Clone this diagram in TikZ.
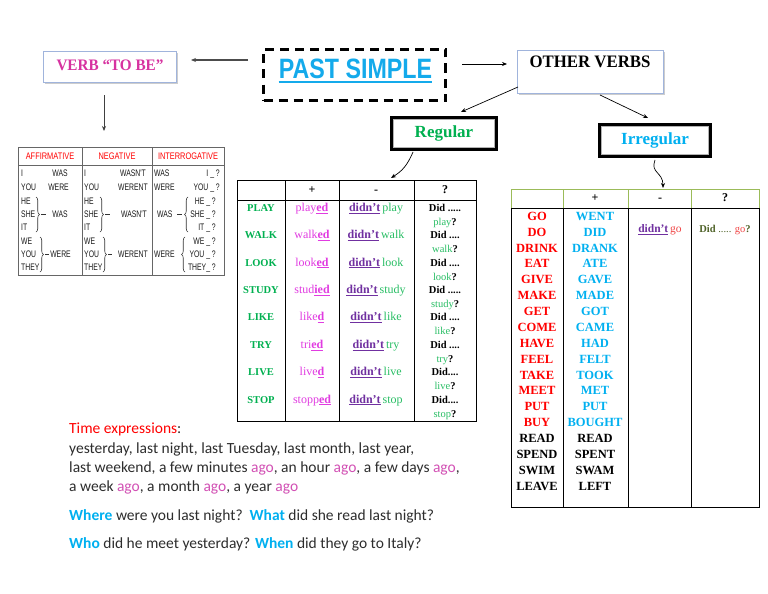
\documentclass[tikz,border=0pt]{standalone}
\usepackage{fontspec}
\setmainfont{Liberation Serif}
\newfontfamily\calib{Carlito}
\newfontfamily\arialf{Liberation Sans}
\usetikzlibrary{arrows.meta,decorations.pathreplacing}
\definecolor{vmag}{RGB}{215,50,160}
\definecolor{pcyan}{RGB}{20,170,235}
\definecolor{tcyan}{RGB}{0,176,240}
\definecolor{rgreen}{RGB}{0,176,80}
\definecolor{lgreen}{RGB}{40,190,100}
\definecolor{pmag}{RGB}{225,60,225}
\definecolor{dpurp}{RGB}{112,48,160}
\definecolor{ired}{RGB}{255,0,0}
\definecolor{gored}{RGB}{240,70,70}
\definecolor{olive}{RGB}{79,98,40}
\definecolor{hgreen}{RGB}{155,187,89}
\definecolor{agopink}{RGB}{210,80,180}
\definecolor{bodyg}{RGB}{45,45,45}
\definecolor{boxblue}{RGB}{160,180,220}
\definecolor{shad}{RGB}{205,205,205}
\newcommand{\ago}{\textcolor{agopink}{ago}}
\newcommand{\LT}[1]{\scalebox{0.72}[1]{#1}}
\begin{document}
\begin{tikzpicture}[x=1pt,y=-1pt,
  arr/.style={-{Stealth[length=5pt,width=4pt]},line width=0.7pt},
  tc/.style={inner sep=0pt,text height=0.66em,text depth=0pt,anchor=center},
  ltx/.style={inner sep=0pt,font=\arialf\fontsize{9.5}{10}\selectfont,text=black!90},
  lhd/.style={tc,font=\arialf\fontsize{9.5}{10}\selectfont,text=ired},
  rtx/.style={tc,font=\fontsize{10.5}{12}\selectfont},
  rtl/.style={tc,font=\fontsize{12}{14}\selectfont},
  rtb/.style={tc,font=\bfseries\fontsize{10.5}{12}\selectfont},
  itx/.style={tc,font=\bfseries\fontsize{12.5}{14}\selectfont},
  hdr/.style={tc,font=\bfseries\fontsize{12}{14}\selectfont},
  tex/.style={inner sep=0pt,anchor=base west,font=\calib\fontsize{15.5}{18}\selectfont,text=bodyg},
  br/.style={decorate,decoration={brace,amplitude=3.5pt},line width=0.6pt,black!80},
  tline/.style={line width=1pt,black},
  lbox/.style={draw=boxblue,fill=white,line width=0.8pt,inner sep=0pt},
  dbox/.style={draw=black,line width=3pt,fill=white,inner sep=0pt}
]
\useasboundingbox (0,0) rectangle (768,594);
\fill[white] (0,0) rectangle (768,594);

% ---------- top boxes ----------
\fill[shad] (45,53) rectangle (178,84);
\node[lbox,minimum width=133pt,minimum height=31pt] (verb) at (109.5,66.5) {};
\node[tc,text=vmag,font=\bfseries\fontsize{16}{18}\selectfont] (verbt) at (110,67) {\scalebox{0.95}[1]{VERB “TO BE”}};

\node[draw=black,line width=3pt,dash pattern=on 9pt off 6pt,minimum width=182pt,minimum height=51pt,inner sep=0pt] (past) at (354.5,75) {};
\node[inner sep=0pt,anchor=base,text=pcyan,font=\arialf\bfseries\fontsize{28}{30}\selectfont] (pst) at (355.5,78) {\scalebox{0.83}[1]{PAST SIMPLE}};
\draw[pcyan,line width=1.6pt] ([yshift=-4pt]pst.base west) -- ([yshift=-4pt]pst.base east);

\fill[shad] (519,52) rectangle (665,95);
\node[lbox,minimum width=146pt,minimum height=43pt] (other) at (590,71.5) {};
\node[tc,font=\bfseries\fontsize{17.5}{19}\selectfont] (othert) at (590,64) {\scalebox{0.96}[1]{OTHER VERBS}};

\node[dbox,minimum width=105pt,minimum height=32pt] (reg) at (444,133.5) {};
\draw[gray!60,line width=1.3pt] ([shift={(3.8pt,3.8pt)}]reg.south west) rectangle ([shift={(-3.8pt,-3.8pt)}]reg.north east);
\node[tc,text=rgreen,font=\bfseries\fontsize{17}{19}\selectfont] (regt) at (444,134) {Regular};

\node[dbox,minimum width=111pt,minimum height=32pt] (irr) at (655,140.5) {};
\draw[gray!60,line width=1.3pt] ([shift={(3.8pt,3.8pt)}]irr.south west) rectangle ([shift={(-3.8pt,-3.8pt)}]irr.north east);
\node[tc,text=tcyan,font=\bfseries\fontsize{17}{19}\selectfont] (irrt) at (655,141) {Irregular};

% ---------- arrows ----------
\coordinate (a1s) at (248,60); \coordinate (a1e) at (191,60);
\coordinate (a2s) at (462,64); \coordinate (a2e) at (507,64);
\coordinate (a3s) at (104,95); \coordinate (a3e) at (104,131);
\coordinate (a4s) at (518,87); \coordinate (a4e) at (461,112);
\coordinate (a5s) at (600,95); \coordinate (a5e) at (648,118);
\coordinate (a6s) at (413,152); \coordinate (a6e) at (391,178);
\coordinate (a7s) at (655,160); \coordinate (a7e) at (663,188);
\draw[arr,line width=1.1pt,black!70] (a1s) -- (a1e);
\draw[arr] (a2s) -- (a2e);
\draw[arr,line width=0.9pt,black!75] (a3s) -- (a3e);
\draw[arr] (a4s) -- (a4e);
\draw[arr] (a5s) -- (a5e);
\draw[arr] (a6s) .. controls (407,166) and (402,171) .. (a6e);
\draw[arr] (a7s) .. controls (650,173) and (663,172) .. (a7e);

% ---------- left table ----------
\draw[black!60,line width=0.8pt] (18,147) rectangle (224,275);
\draw[black!60,line width=0.8pt] (18,165) -- (224,165) (82,147) -- (82,275) (152,147) -- (152,275);
\node[lhd] (h1) at (50,156) {\scalebox{0.78}[1]{AFFIRMATIVE}};
\node[lhd] (h2) at (117,156) {\scalebox{0.78}[1]{NEGATIVE}};
\node[lhd] (h3) at (188,156) {\scalebox{0.78}[1]{INTERROGATIVE}};

\node[ltx,anchor=base west] (l1) at (21,176) {\LT{I}};
\node[ltx,anchor=base east] (l2) at (68,176) {\LT{WAS}};
\node[ltx,anchor=base west] (l3) at (21,190) {\LT{YOU}};
\node[ltx,anchor=base east] (l4) at (69,190) {\LT{WERE}};
\node[ltx,anchor=base west] (l5) at (21,204) {\LT{HE}};
\node[ltx,anchor=base west] (l6) at (21,217) {\LT{SHE}};
\node[ltx,anchor=base west] (l7) at (21,230) {\LT{IT}};
\draw[br] (36,197) -- (36,232);
\draw[black!80,line width=0.7pt] (41,214.5) -- (46,214.5);
\node[ltx,anchor=base east] (l8) at (68,217) {\LT{WAS}};
\node[ltx,anchor=base west] (l9) at (21,244) {\LT{WE}};
\node[ltx,anchor=base west] (l10) at (21,257) {\LT{YOU}};
\node[ltx,anchor=base west] (l11) at (21,270) {\LT{THEY}};
\draw[br] (40,237) -- (40,272);
\draw[black!80,line width=0.7pt] (45,254.5) -- (49,254.5);
\node[ltx,anchor=base east] (l12) at (71,257) {\LT{WERE}};

\node[ltx,anchor=base west] (m1) at (84,176) {\LT{I}};
\node[ltx,anchor=base east] (m2) at (146,176) {\LT{WASN'T}};
\node[ltx,anchor=base west] (m3) at (84,190) {\LT{YOU}};
\node[ltx,anchor=base east] (m4) at (148,190) {\LT{WERENT}};
\node[ltx,anchor=base west] (m5) at (84,204) {\LT{HE}};
\node[ltx,anchor=base west] (m6) at (84,217) {\LT{SHE}};
\node[ltx,anchor=base west] (m7) at (84,230) {\LT{IT}};
\draw[br] (100,197) -- (100,232);
\draw[black!80,line width=0.7pt] (105,214.5) -- (110,214.5);
\node[ltx,anchor=base east] (m8) at (147,217) {\LT{WASN'T}};
\node[ltx,anchor=base west] (m9) at (84,244) {\LT{WE}};
\node[ltx,anchor=base west] (m10) at (84,257) {\LT{YOU}};
\node[ltx,anchor=base west] (m11) at (84,270) {\LT{THEY}};
\draw[br] (103,237) -- (103,272);
\draw[black!80,line width=0.7pt] (108,254.5) -- (112,254.5);
\node[ltx,anchor=base east] (m12) at (148,257) {\LT{WERENT}};

\node[ltx,anchor=base west] (n1) at (154,176) {\LT{WAS}};
\node[ltx,anchor=base east] (n2) at (220,176) {\LT{I \_ ?}};
\node[ltx,anchor=base west] (n3) at (154,190) {\LT{WERE}};
\node[ltx,anchor=base east] (n4) at (220,190) {\LT{YOU \_ ?}};
\node[ltx,anchor=base east] (n5) at (216,204) {\LT{HE \_ ?}};
\node[ltx,anchor=base east] (n6) at (216,217) {\LT{SHE \_ ?}};
\node[ltx,anchor=base east] (n7) at (216,230) {\LT{IT \_ ?}};
\draw[br] (188,232) -- (188,197);
\draw[black!80,line width=0.7pt] (177,214.5) -- (182,214.5);
\node[ltx,anchor=base west] (n8) at (157,217) {\LT{WAS}};
\node[ltx,anchor=base east] (n9) at (216,244) {\LT{WE \_ ?}};
\node[ltx,anchor=base east] (n10) at (216,257) {\LT{YOU \_ ?}};
\node[ltx,anchor=base east] (n11) at (216,270) {\LT{THEY\_ ?}};
\draw[br] (185,272) -- (185,237);
\node[ltx,anchor=base west] (n12) at (154,257) {\LT{WERE}};

% ---------- regular table ----------
\draw[tline] (237,180) rectangle (476,421);
\draw[tline] (237,200) -- (476,200) (285,180) -- (285,421) (339,180) -- (339,421) (414,180) -- (414,421);
\node[hdr] (rh1) at (312,190) {+};
\node[hdr] (rh2) at (376,190) {-};
\node[hdr] (rh3) at (445,190) {?};
\foreach \v/\p/\n/\d [count=\i] in {
PLAY/{play\underline{\textbf{ed}}}/play/{Did .....},
WALK/{walk\underline{\textbf{ed}}}/walk/{Did ....},
LOOK/{look\underline{\textbf{ed}}}/look/{Did ....},
STUDY/{stud\underline{\textbf{ied}}}/study/{Did .....},
LIKE/{like\underline{\textbf{d}}}/like/{Did ....},
TRY/{tri\underline{\textbf{ed}}}/try/{Did ....},
LIVE/{live\underline{\textbf{d}}}/live/{Did....},
STOP/{stopp\underline{\textbf{ed}}}/stop/{Did....}}
{
 \pgfmathsetmacro\yy{208+(\i-1)*27.4}
 \node[rtb,text=rgreen] (rv\i) at (261,\yy) {\v};
 \node[rtl,text=pmag] (rp\i) at (312,\yy) {\p};
 \node[rtl] (rn\i) at (376,\yy) {\textcolor{dpurp}{\underline{\textbf{didn't}}}\,\textcolor{lgreen}{\n}};
 \node[rtb] (rq\i) at (445,\yy) {\d};
 \node[rtx] (rr\i) at (445,\yy+14) {\textcolor{lgreen}{\n}\textbf{?}};
}

% ---------- irregular table ----------
\draw[hgreen,line width=1pt] (511,189) rectangle (759,208);
\draw[hgreen,line width=1pt] (563,189) -- (563,208) (628,189) -- (628,208) (691,189) -- (691,208);
\draw[tline] (511,208) rectangle (759,507);
\draw[tline] (563,208) -- (563,507) (628,208) -- (628,507) (691,208) -- (691,507);
\node[hdr] (ih1) at (595,198.5) {+};
\node[hdr] (ih2) at (660,198.5) {-};
\node[hdr] (ih3) at (725,198.5) {?};
\foreach \a/\b [count=\i] in {GO/WENT,DO/DID,DRINK/DRANK,EAT/ATE,GIVE/GAVE,MAKE/MADE,GET/GOT,COME/CAME,HAVE/HAD,FEEL/FELT,TAKE/TOOK,MEET/MET,PUT/PUT,BUY/BOUGHT,READ/READ,SPEND/SPENT,SWIM/SWAM,LEAVE/LEFT}
{
 \pgfmathsetmacro\yy{217+(\i-1)*15.88}
 \ifnum\i<15 \def\ca{ired}\def\cb{tcyan}\else\def\ca{black}\def\cb{black}\fi
 \node[itx,text=\ca] (ia\i) at (537,\yy) {\a};
 \node[itx,text=\cb] (ib\i) at (595,\yy) {\b};
}
\node[tc,font=\fontsize{11.5}{13}\selectfont] (ineg) at (660,229) {\textcolor{dpurp}{\underline{\textbf{didn't}}}\,\textcolor{gored}{go}};
\node[rtx,text=olive] (iq) at (725,229) {\textbf{Did} ..... \textcolor{gored}{go}\textbf{?}};

% ---------- time expressions ----------
\node[tex] (t1) at (69,433) {\textcolor{ired}{Time expressions}:};
\node[tex] (t2) at (69,453) {yesterday, last night, last Tuesday, last month, last year,};
\node[tex] (t3) at (69,472) {last weekend, a few minutes \ago, an hour \ago, a few days \ago,};
\node[tex] (t4) at (69,491) {a week \ago, a month \ago, a year \ago};
\node[tex] (t5) at (69,520) {\textcolor{tcyan}{\bfseries Where} were you last night?\ \ \textcolor{tcyan}{\bfseries What} did she read last night?};
\node[tex] (t6) at (69,548) {\textcolor{tcyan}{\bfseries Who} did he meet yesterday? \textcolor{tcyan}{\bfseries When} did they go to Italy?};
\end{tikzpicture}
\end{document}
